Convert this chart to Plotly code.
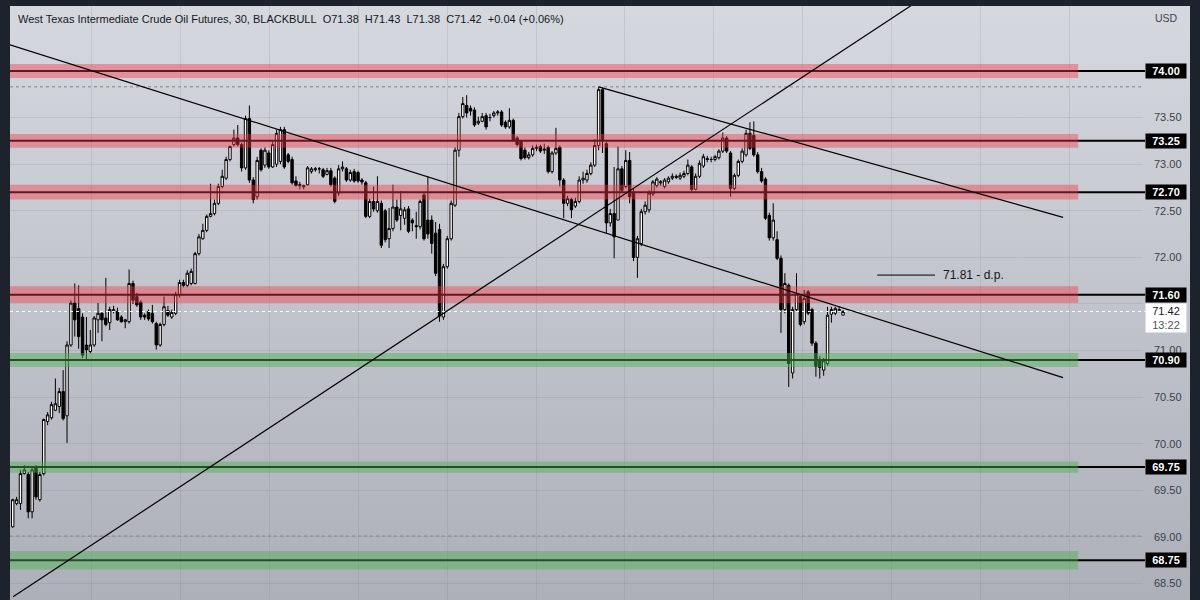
import base64
import plotly.graph_objects as go

# ---------------- data ----------------
opens = [
    69.11, 69.36, 69.36, 69.68, 69.67, 69.27, 69.74, 69.40, 69.68, 70.24,
    70.28, 70.36, 70.40, 70.56, 70.30, 71.06, 71.51, 71.45, 71.36, 71.06,
    70.99, 71.06, 71.33, 71.40, 71.35, 71.30, 71.42, 71.42, 71.36, 71.31,
    71.31, 71.72, 71.58, 71.52, 71.38,
    71.42, 71.40, 71.29, 71.06, 71.28, 71.43, 71.36, 71.40, 71.60, 71.73,
    71.70, 71.72, 71.72, 72.04, 72.20, 72.29, 72.44, 72.47, 72.58, 72.76,
    72.85, 73.05, 73.21, 73.28, 73.21, 72.96, 73.49, 72.83, 72.65, 73.15,
    72.99, 73.12, 72.97, 73.00, 73.03, 73.37, 73.10, 73.05, 72.82, 72.78,
    72.77, 72.78, 72.92, 72.94, 72.95, 72.94, 72.89, 72.93, 72.85, 72.69,
    72.95, 72.95, 72.83, 72.92, 72.91, 72.83, 72.80, 72.44, 72.60, 72.50,
    72.58, 72.50, 72.20, 72.31, 72.54, 72.45, 72.42, 72.52, 72.40, 72.34,
    72.33, 72.67, 72.40, 72.40, 72.26, 72.30, 71.36, 71.90, 72.20, 72.56,
    73.15, 73.51, 73.63, 73.60, 73.58, 73.44, 73.46, 73.52, 73.50, 73.52,
    73.55, 73.56, 73.45, 73.40, 73.47, 73.28, 73.24, 73.15, 73.07, 73.10,
    73.17, 73.19, 73.15, 73.18, 72.92, 73.12, 73.18, 72.83, 72.58, 72.62,
    72.55, 72.60, 72.83, 72.83, 72.90, 72.99, 73.20, 73.80, 73.22, 72.37,
    72.47, 72.40, 72.95, 72.76, 73.04, 72.70, 72.00, 72.15, 72.49, 72.51,
    72.68, 72.77, 72.80, 72.76, 72.81, 72.85, 72.87, 72.85, 72.87, 72.90,
    72.97, 72.73, 72.87, 72.98, 73.06, 73.05, 73.05, 73.07, 73.14, 73.28,
    73.12, 72.74, 72.88, 73.03, 73.10, 73.33, 73.31, 73.10, 72.92, 72.84,
    72.45, 72.21, 72.19, 71.99, 71.44, 71.70, 70.76, 71.44, 71.58, 71.31,
    71.63, 71.44, 71.08, 70.90, 70.79, 70.86, 71.39, 71.40, 71.44, 71.38,
]
highs = [
    69.41, 69.43, 69.72, 69.77, 69.70, 69.75, 69.77, 69.70, 70.27, 70.34,
    70.45, 70.70, 70.60, 70.79, 71.10, 71.54, 71.72, 71.70, 71.40, 71.36,
    71.22, 71.37, 71.51, 71.41, 71.78, 71.47, 71.48, 71.46, 71.38, 71.34,
    71.87, 71.75, 71.62, 71.54, 71.40,
    71.44, 71.49, 71.31, 71.30, 71.58, 71.48, 71.44, 71.63, 71.76, 71.76,
    71.86, 71.88, 72.06, 72.25, 72.36, 72.46, 72.79, 72.62, 72.79, 72.94,
    73.08, 73.20, 73.37, 73.42, 73.23, 73.52, 73.63, 72.86, 73.08, 73.17,
    73.18, 73.15, 73.24, 73.37, 73.40, 73.40, 73.12, 73.08, 72.87, 72.81,
    72.78, 72.98, 72.97, 72.97, 72.97, 72.96, 72.96, 72.96, 72.87, 72.99,
    73.03, 72.97, 72.94, 72.95, 72.93, 72.85, 72.82, 72.63, 72.76, 72.87,
    72.61, 72.52, 72.53, 72.78, 72.62, 72.71, 72.54, 72.55, 72.42, 72.49,
    72.62, 72.70, 72.87, 72.45, 72.38, 72.36, 71.93, 72.23, 72.61, 73.18,
    73.55, 73.72, 73.74, 73.63, 73.61, 73.51, 73.55, 73.55, 73.54, 73.57,
    73.58, 73.58, 73.47, 73.60, 73.49, 73.30, 73.26, 73.18, 73.13, 73.20,
    73.21, 73.21, 73.22, 73.20, 73.14, 73.39, 73.20, 72.85, 72.66, 72.64,
    72.64, 72.87, 72.92, 72.94, 73.02, 73.27, 73.83, 73.82, 73.24, 72.52,
    72.97, 73.19, 72.98, 73.15, 73.13, 72.74, 72.23, 72.52, 72.60, 72.72,
    72.83, 72.86, 72.83, 72.85, 72.87, 72.90, 72.89, 72.91, 72.93, 73.05,
    72.99, 72.90, 73.04, 73.11, 73.09, 73.08, 73.10, 73.16, 73.34, 73.30,
    73.14, 72.90, 73.05, 73.17, 73.37, 73.45, 73.46, 73.13, 72.96, 72.86,
    72.48, 72.58, 72.28, 72.02, 71.83, 71.72, 71.47, 71.83, 71.60, 71.65,
    71.65, 71.46, 71.10, 70.94, 70.92, 71.47, 71.47, 71.47, 71.47, 71.43,
]
lows = [
    69.10, 69.34, 69.29, 69.67, 69.20, 69.20, 69.40, 69.38, 69.66, 70.20,
    70.26, 70.35, 70.33, 70.25, 70.01, 71.04, 71.15, 71.02, 70.92, 70.90,
    70.97, 71.04, 71.19, 71.10, 71.26, 71.22, 71.40, 71.32, 71.30, 71.24,
    71.29, 71.50, 71.47, 71.33, 71.33,
    71.32, 71.29, 71.01, 71.04, 71.26, 71.36, 71.34, 71.38, 71.57, 71.68,
    71.68, 71.70, 71.71, 72.02, 72.19, 72.27, 72.43, 72.45, 72.56, 72.74,
    72.83, 73.03, 73.19, 73.19, 72.92, 72.94, 72.80, 72.58, 72.62, 72.92,
    72.96, 72.95, 72.96, 72.97, 73.00, 72.95, 73.01, 72.78, 72.76, 72.73,
    72.73, 72.77, 72.90, 72.92, 72.90, 72.85, 72.88, 72.76, 72.58, 72.66,
    72.92, 72.81, 72.81, 72.80, 72.80, 72.78, 72.42, 72.42, 72.49, 72.48,
    72.10, 72.16, 72.10, 72.28, 72.38, 72.29, 72.35, 72.26, 72.28, 72.20,
    72.30, 72.18, 72.20, 72.04, 71.80, 71.31, 71.33, 71.88, 72.18, 72.54,
    73.08, 73.49, 73.50, 73.52, 73.40, 73.42, 73.45, 73.37, 73.46, 73.50,
    73.52, 73.40, 73.38, 73.38, 73.24, 73.19, 73.04, 73.05, 73.05, 73.08,
    73.14, 73.12, 73.11, 72.90, 72.90, 73.10, 72.76, 72.42, 72.55, 72.42,
    72.53, 72.58, 72.79, 72.80, 72.88, 72.97, 73.15, 73.12, 72.26, 72.33,
    71.99, 72.40, 72.70, 72.74, 72.58, 71.96, 71.78, 72.12, 72.46, 72.48,
    72.66, 72.75, 72.77, 72.74, 72.79, 72.83, 72.84, 72.83, 72.85, 72.88,
    72.71, 72.72, 72.85, 72.96, 73.02, 73.02, 73.03, 73.05, 73.12, 73.12,
    72.65, 72.72, 72.86, 73.01, 73.08, 73.15, 73.08, 72.90, 72.80, 72.40,
    72.18, 72.18, 71.97, 71.19, 71.40, 70.61, 70.70, 71.42, 71.26, 71.28,
    71.38, 71.05, 70.72, 70.70, 70.73, 70.84, 71.30, 71.38, 71.41, 71.38,
]
closes = [
    69.40, 69.40, 69.68, 69.72, 69.27, 69.72, 69.43, 69.67, 70.26, 70.31,
    70.42, 70.43, 70.56, 70.27, 71.06, 71.51, 71.33, 71.15, 70.95, 71.01,
    71.06, 71.35, 71.40, 71.33, 71.28, 71.44, 71.44, 71.33, 71.31, 71.33,
    71.72, 71.54, 71.49, 71.36, 71.36,
    71.34, 71.31, 71.06, 71.28, 71.47, 71.38, 71.41, 71.60, 71.73, 71.70,
    71.83, 71.85, 72.04, 72.22, 72.29, 72.44, 72.47, 72.58, 72.76, 72.87,
    73.05, 73.19, 73.28, 73.21, 72.96, 73.49, 72.83, 72.62, 73.04, 72.94,
    73.15, 72.97, 73.21, 73.33, 73.37, 72.97, 73.03, 72.80, 72.77, 72.77,
    72.76, 72.96, 72.95, 72.95, 72.95, 72.87, 72.93, 72.78, 72.60, 72.95,
    72.97, 72.83, 72.91, 72.82, 72.82, 72.81, 72.44, 72.60, 72.52, 72.60,
    72.13, 72.19, 72.31, 72.54, 72.40, 72.52, 72.51, 72.28, 72.37, 72.33,
    72.60, 72.20, 72.25, 72.15, 71.83, 71.37, 71.90, 72.20, 72.58, 73.15,
    73.51, 73.65, 73.55, 73.57, 73.42, 73.46, 73.51, 73.40, 73.50, 73.55,
    73.56, 73.42, 73.40, 73.47, 73.26, 73.21, 73.06, 73.07, 73.10, 73.17,
    73.18, 73.14, 73.16, 72.92, 73.12, 73.17, 72.83, 72.58, 72.63, 72.51,
    72.60, 72.83, 72.85, 72.90, 72.99, 73.20, 73.80, 73.25, 72.37, 72.47,
    72.22, 72.95, 72.72, 73.04, 72.65, 72.00, 72.20, 72.49, 72.56, 72.69,
    72.81, 72.84, 72.81, 72.83, 72.85, 72.87, 72.86, 72.88, 72.90, 72.99,
    72.73, 72.87, 73.01, 73.08, 73.05, 73.05, 73.08, 73.14, 73.28, 73.14,
    72.74, 72.88, 73.03, 73.14, 73.33, 73.17, 73.10, 72.92, 72.82, 72.42,
    72.21, 72.40, 71.99, 71.44, 71.72, 70.86, 71.44, 71.61, 71.28, 71.56,
    71.40, 71.08, 70.83, 70.82, 70.89, 71.38, 71.44, 71.45, 71.43, 71.42,
]
bar_index = list(range(len(opens)))

price_ticks = [68.5, 69.0, 69.5, 70.0, 70.5, 71.0, 71.5, 72.0, 72.5, 73.0, 73.5, 74.0]
price_tick_text = ["68.50", "69.00", "69.50", "70.00", "70.50", "71.00", "", "72.00",
                   "72.50", "73.00", "73.50", ""]

zone_levels = [74.00, 73.25, 72.70, 71.60, 70.90, 69.75, 68.75]
zone_half_height = [0.075, 0.075, 0.08, 0.09, 0.075, 0.06, 0.10]
zone_kind = ["supply", "supply", "supply", "supply", "demand", "demand", "demand"]

# trend lines: (bar index, price) pairs
trend_lines = [
    ((-0.7, 74.28), (270.7, 70.71)),
    ((0.1, 68.36), (234.4, 74.78)),
    ((151.0, 73.83), (270.7, 72.43)),
]
dp_level = 71.81
dp_span = (222.8, 237.7)
zone_end_index = 274.6
last_price = 71.42
range_high = 73.83
range_low = 69.01

header = ("West Texas Intermediate Crude Oil Futures, 30, BLACKBULL&nbsp;&nbsp;O71.38&nbsp;&nbsp;"
          "H71.43&nbsp;&nbsp;L71.38&nbsp;&nbsp;C71.42&nbsp;&nbsp;+0.04 (+0.06%)")

# ---------------- figure ----------------
W, H = 1200, 600
plot_left, plot_right = 10 / W, 1143 / W
label_left = 1145 / W
panel_right = 1190 / W
plot_top = 594 / H
FONT = "Liberation Sans, Arial, sans-serif"

fig = go.Figure()
fig.add_trace(go.Candlestick(
    x=bar_index, open=opens, high=highs, low=lows, close=closes,
    increasing=dict(line=dict(color="#000000", width=1), fillcolor="#ffffff"),
    decreasing=dict(line=dict(color="#000000", width=1), fillcolor="#000000"),
    whiskerwidth=0, hoverinfo="skip", showlegend=False,
))

shapes = []
for lvl in (range_high, range_low):
    shapes.append(dict(type="line", xref="paper", yref="y", x0=plot_left, x1=plot_right,
                       y0=lvl, y1=lvl, line=dict(color="#80848f", width=1, dash="dot")))
shapes.append(dict(type="line", xref="paper", yref="y", x0=plot_left, x1=label_left,
                   y0=last_price, y1=last_price, line=dict(color="#ffffff", width=1, dash="dot")))

for lvl in zone_levels:
    shapes.append(dict(type="line", xref="paper", yref="y", x0=plot_left, x1=label_left,
                       y0=lvl, y1=lvl, line=dict(color="#000000", width=2)))
for lvl, hh, kind in zip(zone_levels, zone_half_height, zone_kind):
    fill = "rgba(242,54,69,0.42)" if kind == "supply" else "rgba(76,175,80,0.45)"
    shapes.append(dict(type="rect", xref="x", yref="y", x0=-1, x1=zone_end_index,
                       y0=lvl - hh, y1=lvl + hh, fillcolor=fill, line=dict(width=0)))

for (x0, y0), (x1, y1) in trend_lines:
    shapes.append(dict(type="line", xref="x", yref="y", x0=x0, y0=y0, x1=x1, y1=y1,
                       line=dict(color="#000000", width=1.2)))
shapes.append(dict(type="line", xref="x", yref="y", x0=dp_span[0], x1=dp_span[1],
                   y0=dp_level, y1=dp_level, line=dict(color="#000000", width=1)))

annotations = []
annotations.append(dict(xref="paper", yref="paper", x=16 / W, y=1 - 19 / H, xanchor="left",
                        yanchor="middle", text=header, showarrow=False,
                        font=dict(family=FONT, size=11, color="#131722")))
annotations.append(dict(xref="paper", yref="paper", x=1166 / W, y=1 - 18 / H, xanchor="center",
                        yanchor="middle", text="USD", showarrow=False,
                        font=dict(family=FONT, size=10.5, color="#40444f")))
annotations.append(dict(xref="x", yref="y", x=dp_span[1] + 1.5, y=dp_level, xanchor="left",
                        yanchor="middle", text=f"{dp_level:.2f} - d.p.", showarrow=False,
                        font=dict(family=FONT, size=12, color="#131722")))
for lvl in zone_levels:
    annotations.append(dict(xref="paper", yref="y", x=label_left, y=lvl, xanchor="left",
                            yanchor="middle", text=f"<b>{lvl:.2f}</b>", showarrow=False,
                            bgcolor="#000000", borderpad=1, width=38, align="center",
                            font=dict(family=FONT, size=11, color="#ffffff")))
annotations.append(dict(xref="paper", yref="y", x=label_left, y=last_price, xanchor="left",
                        yanchor="top", yshift=8, showarrow=False, bgcolor="#ffffff",
                        borderpad=1, width=38, align="center",
                        text=f"{last_price:.2f}<br><span style='color:#50535e'>13:22</span>",
                        font=dict(family=FONT, size=11, color="#131722")))

svg = ('<svg xmlns="http://www.w3.org/2000/svg" width="100" height="100" preserveAspectRatio="none">'
       '<defs><linearGradient id="g" x1="0" y1="0" x2="0" y2="1">'
       '<stop offset="0" stop-color="#d6d8df"/><stop offset="1" stop-color="#adb0b9"/>'
       '</linearGradient></defs><rect width="100" height="100" fill="url(#g)"/></svg>')
bg_src = "data:image/svg+xml;base64," + base64.b64encode(svg.encode()).decode()

fig.update_layout(
    width=W, height=H,
    margin=dict(l=0, r=0, t=0, b=0),
    paper_bgcolor="#1e222d",
    plot_bgcolor="rgba(0,0,0,0)",
    boxgap=0.12,
    showlegend=False,
    shapes=shapes,
    annotations=annotations,
    images=[dict(source=bg_src, xref="paper", yref="paper", x=plot_left, y=plot_top,
                 sizex=panel_right - plot_left, sizey=plot_top, sizing="stretch", layer="below",
                 xanchor="left", yanchor="top")],
    xaxis=dict(domain=[plot_left, plot_right], range=[-0.696, 291.3],
               rangeslider=dict(visible=False), showticklabels=False, ticks="",
               showgrid=True, gridcolor="rgba(110,115,130,0.16)", gridwidth=1,
               tick0=20.4, dtick=22.9, zeroline=False, showline=False),
    yaxis=dict(domain=[0, plot_top], range=[68.324, 74.697], side="right",
               tickvals=price_ticks, ticktext=price_tick_text, ticks="",
               ticklabelstandoff=10,
               tickfont=dict(family=FONT, size=11, color="#3b3f4a"),
               showgrid=True, gridcolor="rgba(110,115,130,0.16)", gridwidth=1,
               zeroline=False, showline=False),
)

fig.write_html("out.html", config={"displayModeBar": False, "staticPlot": True},
               post_script="document.body.style.margin='0px';document.body.style.overflow='hidden';")
